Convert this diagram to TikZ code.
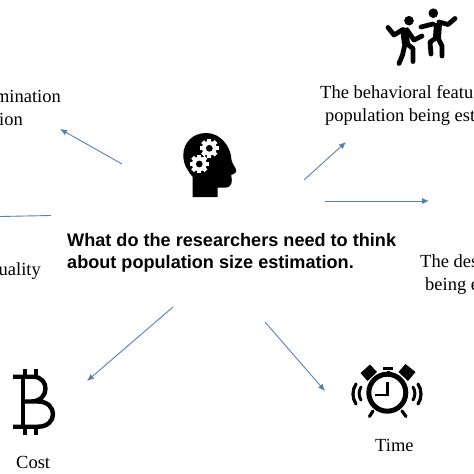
\documentclass[tikz,border=0pt]{standalone}
\usepackage{fontspec}
\setmainfont{Liberation Serif}
\setsansfont{Liberation Sans}
\usetikzlibrary{arrows.meta}
\definecolor{arrowblue}{HTML}{5B7DB5}
\tikzset{
  conn/.style={draw=arrowblue,line width=0.9pt,-{Latex[length=7pt,width=6pt]}},
  connplain/.style={draw=arrowblue,line width=0.9pt},
  label/.style={inner sep=0pt,font=\fontsize{18.5}{22}\selectfont},
  question/.style={inner sep=0pt,font=\sffamily\bfseries\fontsize{18.1}{22}\selectfont},
  limb/.style={draw=black,line width=4.8pt,line cap=round,line join=round},
  icon/.style={draw=black,line width=4.4pt,line join=round},
}
\newcommand{\cogwheel}[2]{%
  \foreach \a in {0,45,...,315}{
    \fill[white,shift={(#1,#2)},rotate=\a] (-1.9,-9.4) rectangle (1.9,9.4);
  }
  \fill[white] (#1,#2) circle (7.4);
  \fill[black] (#1,#2) circle (3.4);
}
\begin{document}
\begin{tikzpicture}[x=1pt,y=-1pt]
\useasboundingbox (0,0) rectangle (474,474);
\clip (0,0) rectangle (474,474);

% head icon
\fill[black] (192.7,197) -- (217.7,197) -- (217.7,187.5) -- (226,187.5)
  .. controls (230,187.5) and (232,184) .. (231.8,180)
  -- (231.2,175) .. controls (234,174.5) and (237,172.5) .. (236,169.5)
  .. controls (234.5,166) and (232,163) .. (231.5,160)
  .. controls (231,146) and (220,133) .. (206.5,133)
  .. controls (192,133) and (183.5,143) .. (183.3,155)
  .. controls (183.3,165) and (188,171) .. (192.7,177) -- cycle;
\cogwheel{209.3}{148.3}
\cogwheel{199.3}{164}

% people icon
\fill[black] (409,20.7) circle (4.8);
\fill[black] (433.3,13.2) circle (4.8);
\draw[limb] (388,27.5) -- (394,35) -- (403,29.5);
\draw[limb,line width=8pt,line cap=butt] (404,28) -- (406,44);
\draw[limb] (407,30) -- (414,40) -- (422,36);
\draw[limb] (405,44) -- (402.5,55) -- (399,63.5);
\draw[limb] (407,44) -- (413,48.5) -- (413,61.5);
\draw[limb] (421,27) -- (433,24);
\draw[limb,line width=8pt,line cap=butt] (438,23) -- (437,38);
\draw[limb] (439,22) -- (448,24.5) -- (455,18.5);
\draw[limb] (436,38) -- (430,42) -- (431,54);
\draw[limb] (438,38) -- (442,46) -- (442,56);

% bitcoin icon
\draw[icon] (13,376.7) -- (33,376.7) .. controls (50,376.7) and (50,401.5) .. (31,401.5) -- (23,401.5)
  (31,401.5) -- (38,401.5) .. controls (58,401.5) and (58,426.7) .. (38,426.7) -- (13,426.7);
\draw[icon] (23,376.7) -- (23,426.7);
\draw[black,line width=3.6pt] (25,369) -- (25,377) (36,369) -- (36,377)
  (25,426) -- (25,435) (36,426) -- (36,435);

% clock icon
\draw[black,line width=5pt] (387.3,392.7) circle (18.5);
\draw[black,line width=2.8pt] (387.3,382) -- (387.3,395) -- (375,395);
\draw[black,line width=3pt] (388,371) -- (388,376);
\draw[black,line width=3pt] (383,368) -- (393,368);
\fill[black] (360.5,373) -- (370,364.5) -- (377,372) -- (367.5,381) -- cycle;
\fill[black] (398.5,372) -- (405.5,364) -- (415.5,372) -- (408,381) -- cycle;
\draw[black,line width=3.2pt,line cap=round] (373,411) -- (369.5,416.5);
\draw[black,line width=3.2pt,line cap=round] (402,411) -- (406,416.5);
\draw[black,line width=3pt,line cap=round] (361,387) .. controls (358.5,391) and (358.5,396) .. (361,400);
\draw[black,line width=3.2pt,line cap=round] (356,384) .. controls (352,390) and (352,398) .. (356,404);
\draw[black,line width=3pt,line cap=round] (413,387) .. controls (415.5,391) and (415.5,396) .. (413,400);
\draw[black,line width=3.2pt,line cap=round] (418,384) .. controls (422,390) and (422,398) .. (418,404);

% texts
\node[label,anchor=base east] (domlineone) at (61,102) {mination};
\node[label,anchor=base east] (domlinetwo) at (23,125) {ion};
\node[label,anchor=base west] (behavone) at (320,98) {The behavioral featu};
\node[label,anchor=base west] (behavtwo) at (325,121) {population being est};
\node[label,anchor=base east] (quality) at (41,275) {uality};
\node[label,anchor=base west] (desone) at (420,267) {The des};
\node[label,anchor=base west] (destwo) at (425,290) {being e};
\node[label,anchor=base west] (cost) at (16,468) {Cost};
\node[label,anchor=base west] (time) at (375,451) {Time};
\node[question,anchor=base west] (qone) at (67,246) {What do the researchers need to think};
\node[question,anchor=base west] (qtwo) at (67,268) {about population size estimation.};

% connectors
\coordinate (aa) at (122,164); \coordinate (ab) at (60,129);
\coordinate (ba) at (51,215.5); \coordinate (bb) at (0,216.5);
\coordinate (ca) at (304,180); \coordinate (cb) at (346,142);
\coordinate (da) at (325,201); \coordinate (db) at (429,201);
\coordinate (ea) at (173,307); \coordinate (eb) at (87,381);
\coordinate (fa) at (265,322); \coordinate (fb) at (325,391);
\draw[conn] (aa) -- (ab);
\draw[connplain] (ba) -- (bb);
\draw[conn] (ca) -- (cb);
\draw[conn] (da) -- (db);
\draw[conn] (ea) -- (eb);
\draw[conn] (fa) -- (fb);
\end{tikzpicture}
\end{document}
